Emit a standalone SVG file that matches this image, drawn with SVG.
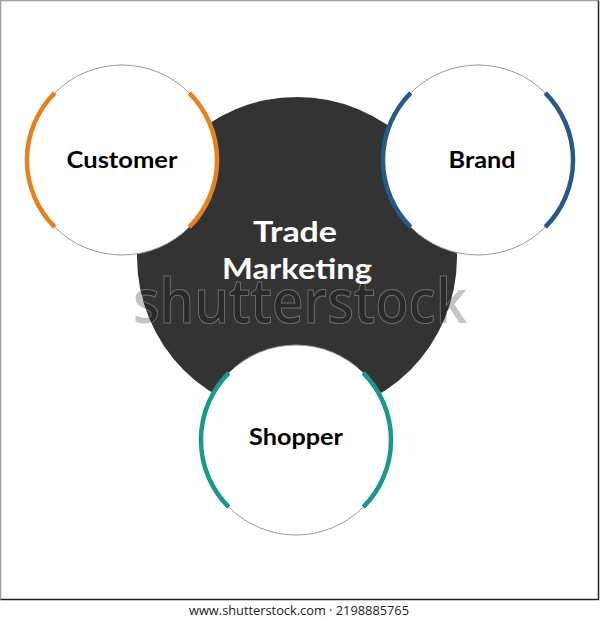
<svg xmlns="http://www.w3.org/2000/svg" width="600" height="620" viewBox="0 0 600 620">
<style>
.ring{fill:#ffffff;stroke:#9a9a9a;stroke-width:1}
.arc{fill:none;stroke-width:4.5}
.lbl{font-family:Lato,"Noto Sans","Liberation Sans",sans-serif;font-weight:700;font-size:23px;fill:#000;text-anchor:middle}
.center{font-family:Lato,"Noto Sans","Liberation Sans",sans-serif;font-weight:700;font-size:29px;fill:#fff;text-anchor:middle}
.wm{font-family:"Open Sans","Noto Sans",sans-serif;font-size:62px;font-weight:600;text-anchor:middle}
</style>
<defs>
<clipPath id="darkclip"><circle cx="297" cy="257" r="160"/></clipPath>
</defs>
<rect x="0" y="0" width="600" height="620" fill="#fff"/>
<path d="M0.5 599.5 V0.5 H598.5" fill="none" stroke="#a0a0a0" stroke-width="1.5"/>
<path d="M598.5 0.5 V599.5 H0.5" fill="none" stroke="#222" stroke-width="1.5"/>
<g id="trade-marketing">
<circle cx="297" cy="257" r="160" fill="#333333"/>
</g>
<g id="customer">
<circle class="ring" cx="122" cy="160" r="95"/>
<path class="arc" stroke="#E5821F" d="M189.2 92.8 A95 95 0 0 1 189.2 227.2"/>
<path class="arc" stroke="#E5821F" d="M54.8 227.2 A95 95 0 0 1 54.8 92.8"/>
<text class="lbl" x="122" y="168" textLength="111" lengthAdjust="spacingAndGlyphs">Customer</text>
</g>
<g id="brand">
<circle class="ring" cx="478" cy="160" r="95"/>
<path class="arc" stroke="#265A88" d="M545.2 92.8 A95 95 0 0 1 545.2 227.2"/>
<path class="arc" stroke="#265A88" d="M410.8 227.2 A95 95 0 0 1 410.8 92.8"/>
<text class="lbl" x="482" y="168" textLength="67" lengthAdjust="spacingAndGlyphs">Brand</text>
</g>
<g id="shopper">
<circle class="ring" cx="296" cy="440" r="95"/>
<path class="arc" stroke="#1C9986" d="M363.2 372.8 A95 95 0 0 1 363.2 507.2"/>
<path class="arc" stroke="#1C9986" d="M228.8 507.2 A95 95 0 0 1 228.8 372.8"/>
<text class="lbl" x="296" y="445" textLength="94" lengthAdjust="spacingAndGlyphs">Shopper</text>
</g>
<g id="connectors"></g>
<text class="wm" x="300" y="323" fill="#c4c4c4" textLength="334" lengthAdjust="spacingAndGlyphs">shutterstock</text>
<g clip-path="url(#darkclip)">
<text class="wm" x="300" y="323" fill="#2a2a2a" stroke="#6a6a6a" stroke-width="1" textLength="334" lengthAdjust="spacingAndGlyphs">shutterstock</text>
</g>
<g id="center-label">
<text class="center" x="295" y="242" textLength="84" lengthAdjust="spacingAndGlyphs">Trade</text>
<text class="center" x="297" y="279" textLength="150" lengthAdjust="spacingAndGlyphs">Marketing</text>
</g>
<text x="299" y="615" font-family="'Open Sans','Liberation Sans',sans-serif" font-size="13" fill="#222" text-anchor="middle" textLength="220" lengthAdjust="spacingAndGlyphs">www.shutterstock.com · 2198885765</text>
</svg>
